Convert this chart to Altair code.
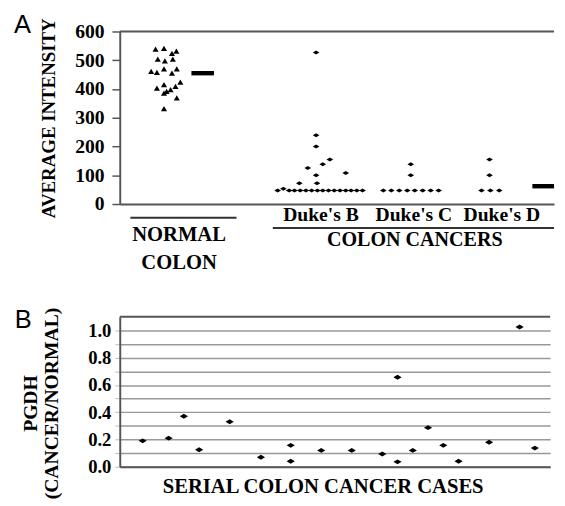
import altair as alt
import pandas as pd

# ---------------- Panel A data ----------------
normal_x = [8.1, 10.0, 11.8, 12.8, 8.6, 10.2, 12.0, 7.1, 8.4, 10.0, 11.8, 12.9,
            8.4, 10.0, 10.6, 11.5, 12.6, 13.7, 10.0, 12.9, 10.0]
normal_y = [539, 541, 524, 532, 504, 498, 504, 461, 458, 470, 455, 470,
            403, 415, 392, 398, 409, 424, 386, 369, 332]

cancer_x = [35.7, 37.0, 38.3, 39.5, 40.8, 42.1, 43.4, 44.7, 45.9, 47.2, 48.5, 49.8,
            51.1, 52.3, 53.6, 54.9,
            40.6, 44.6, 44.4, 42.5, 45.9, 47.5, 51.1, 44.4, 44.4, 44.4,
            59.6, 61.4, 63.2, 65.0, 66.7, 68.5, 70.3, 72.1, 65.8, 65.8,
            81.8, 83.8, 85.8, 83.6, 83.6]
cancer_y = [47, 53, 47, 47, 47, 47, 47, 47, 47, 47, 47, 47,
            47, 47, 47, 47,
            72, 72, 100, 125, 138, 155, 108, 200, 239, 527,
            47, 47, 47, 47, 47, 47, 47, 47, 100, 138,
            47, 47, 47, 100, 155]

mean_x = [16.2, 93.3]
mean_x2 = [21.3, 98.2]
mean_y = [455, 62]

group_names = ["Duke's B", "Duke's C", "Duke's D"]
group_x = [45.5, 66.5, 86.4]

normal_bracket = [2.4, 26.4]
cancer_bracket = [34.6, 98.2]
normal_label_x = [13.4]
cancer_label_x = [66.7]

yA_ticks = [0, 100, 200, 300, 400, 500, 600]

# ---------------- Panel B data ----------------
case_x = [0.3, 2.0, 3.0, 4.0, 6.0, 8.05, 10.0, 10.0, 12.0, 14.0, 16.0, 17.0, 17.0,
          18.0, 19.0, 20.0, 21.0, 23.0, 25.0, 26.0]
pgdh = [0.19, 0.21, 0.37, 0.125, 0.33, 0.07, 0.157, 0.04, 0.12, 0.12, 0.094, 0.656,
        0.036, 0.12, 0.287, 0.157, 0.04, 0.18, 1.025, 0.137]
yB_ticks = [0.0, 0.1, 0.2, 0.3, 0.4, 0.5, 0.6, 0.7, 0.8, 0.9, 1.0]

SERIF = "Liberation Serif"
SANS = "Liberation Sans"
DIAMOND = "M-1,0L0,-0.6L1,0L0,0.6Z"

# ================= Panel A =================
xA = alt.X("x:Q", scale=alt.Scale(domain=[0, 98.2], nice=False, zero=False),
           axis=alt.Axis(title=None, labels=False, ticks=False, grid=False,
                         domainColor="#555", domainWidth=2))
yA = alt.Y("y:Q", scale=alt.Scale(domain=[0, 600], nice=False),
           axis=alt.Axis(values=yA_ticks, title="AVERAGE INTENSITY", grid=False,
                         tickSize=8, tickColor="#555", tickWidth=1.5,
                         labelPadding=8, labelFont=SERIF, labelFontWeight="bold",
                         labelFontSize=20, labelColor="#000", labelOverlap=False,
                         domainColor="#555", domainWidth=2,
                         titleFont=SERIF, titleFontWeight="bold", titleFontSize=19.2,
                         titleColor="#000", titlePadding=17))

dfN = pd.DataFrame({"x": normal_x, "y": normal_y})
dfC = pd.DataFrame({"x": cancer_x, "y": cancer_y})
dfM = pd.DataFrame({"x": mean_x, "x2": mean_x2, "y": mean_y})

tri = alt.Chart(dfN).mark_point(shape="triangle-up", filled=True, color="#000",
                                opacity=1, size=38).encode(x=xA, y=yA)
dia = alt.Chart(dfC).mark_point(shape=DIAMOND, filled=True, color="#000",
                                opacity=1, size=46).encode(x=xA, y=yA)
means = alt.Chart(dfM).mark_rule(color="#000", strokeWidth=4.5).encode(
    x=xA, x2="x2:Q", y=yA)
topA = alt.Chart(pd.DataFrame({"y": [600]})).mark_rule(
    color="#555", strokeWidth=2).encode(y=yA)

grp = alt.Chart(pd.DataFrame({"x": group_x, "label": group_names})).mark_text(
    font=SERIF, fontWeight="bold", fontSize=20, color="#000", baseline="middle"
).encode(x=xA, text="label:N", y=alt.value(187))

brN = alt.Chart(pd.DataFrame({"x": [normal_bracket[0]], "x2": [normal_bracket[1]]})).mark_rule(
    color="#333", strokeWidth=2).encode(x=xA, x2="x2:Q", y=alt.value(190))
brC = alt.Chart(pd.DataFrame({"x": [cancer_bracket[0]], "x2": [cancer_bracket[1]]})).mark_rule(
    color="#333", strokeWidth=2).encode(x=xA, x2="x2:Q", y=alt.value(200.5))

lblN1 = alt.Chart(pd.DataFrame({"x": normal_label_x, "label": ["NORMAL"]})).mark_text(
    font=SERIF, fontWeight="bold", fontSize=21, color="#000", baseline="middle"
).encode(x=xA, text="label:N", y=alt.value(208))
lblN2 = alt.Chart(pd.DataFrame({"x": normal_label_x, "label": ["COLON"]})).mark_text(
    font=SERIF, fontWeight="bold", fontSize=21, color="#000", baseline="middle"
).encode(x=xA, text="label:N", y=alt.value(236))
lblC = alt.Chart(pd.DataFrame({"x": cancer_label_x, "label": ["COLON CANCERS"]})).mark_text(
    font=SERIF, fontWeight="bold", fontSize=20.5, color="#000", baseline="middle"
).encode(x=xA, text="label:N", y=alt.value(213))

letA = alt.Chart(pd.DataFrame({"t": ["A"]})).mark_text(
    font=SANS, fontSize=26, color="#000", align="left", baseline="top"
).encode(text="t:N", x=alt.value(-108), y=alt.value(-19))

panelA = alt.layer(topA, tri, dia, means, grp, brN, brC, lblN1, lblN2, lblC, letA).properties(
    width=443, height=176)

# ================= Panel B =================
xB = alt.X("x:Q", scale=alt.Scale(domain=[-1.2, 27.0], nice=False, zero=False),
           axis=alt.Axis(title="SERIAL COLON CANCER CASES", labels=False, ticks=False,
                         grid=False, domainColor="#555", domainWidth=2,
                         titleFont=SERIF, titleFontWeight="bold", titleFontSize=21,
                         titleColor="#000", titleX=207, titleY=20,
                         titleBaseline="middle"))
yB = alt.Y("y:Q", scale=alt.Scale(domain=[0, 1.1], nice=False),
           axis=alt.Axis(values=yB_ticks, title=["PGDH", "(CANCER/NORMAL)"],
                         labelExpr="(round(datum.value*10) % 2 == 0) ? format(datum.value, '.1f') : ''",
                         grid=True, gridColor="#999", gridWidth=1.5,
                         tickSize=5, tickColor="#bbb", tickWidth=1,
                         labelPadding=4, labelFont=SERIF, labelFontWeight="bold",
                         labelFontSize=19, labelColor="#000", labelOverlap=False,
                         domainColor="#555", domainWidth=2,
                         titleFont=SERIF, titleFontWeight="bold", titleFontSize=20,
                         titleColor="#000", titlePadding=27, titleLineHeight=21,
                         titleY=88))

dfB = pd.DataFrame({"x": case_x, "y": pgdh})
ptsB = alt.Chart(dfB).mark_point(shape=DIAMOND, filled=True, color="#000",
                                 opacity=1, size=70).encode(x=xB, y=yB)
topB = alt.Chart(pd.DataFrame({"y": [1.1]})).mark_rule(
    color="#555", strokeWidth=2).encode(y=yB)
letB = alt.Chart(pd.DataFrame({"t": ["B"]})).mark_text(
    font=SANS, fontSize=26, color="#000", align="left", baseline="top"
).encode(text="t:N", x=alt.value(-107), y=alt.value(-10))

panelB = alt.layer(topB, ptsB, letB).properties(width=439, height=153)

chart = alt.vconcat(panelA, panelB, spacing=35).properties(
    padding={"left": 6, "top": 0, "right": 0, "bottom": 0}
).configure_view(stroke=None)

chart.save("out.html", embed_options={"renderer": "svg", "actions": False})
